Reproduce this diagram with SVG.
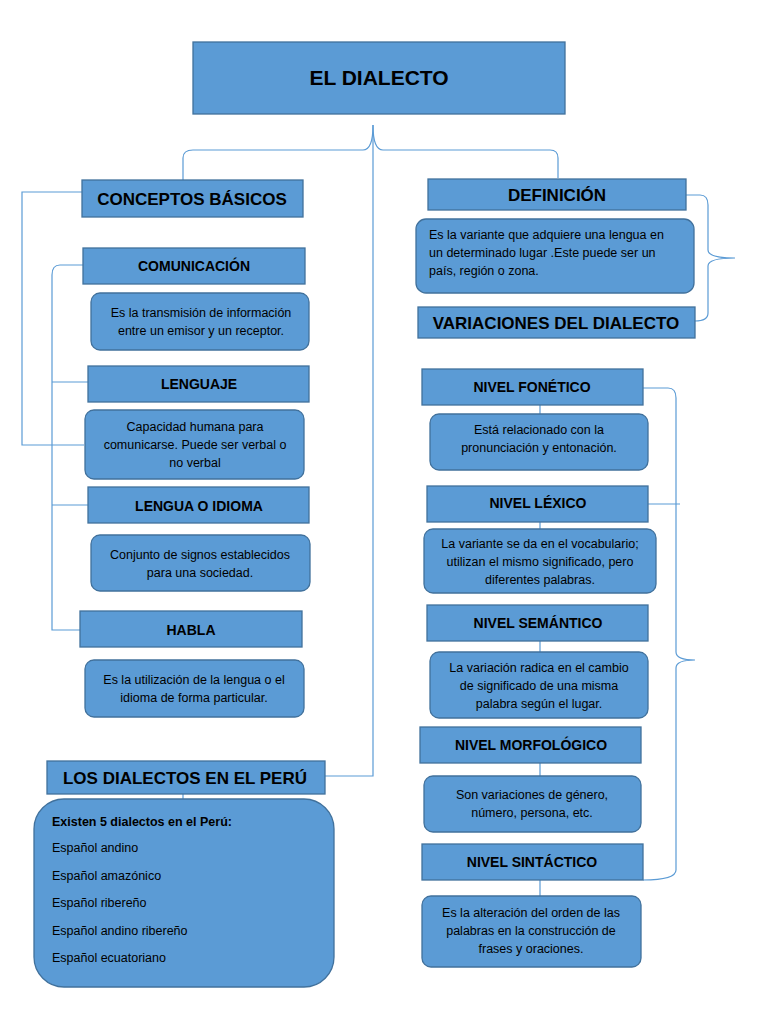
<svg xmlns="http://www.w3.org/2000/svg" width="768" height="1024" viewBox="0 0 768 1024">
<style>
.b{fill:#5b9bd5;stroke:#41719c;stroke-width:1.3}
.t{font-family:"Liberation Sans",Arial,sans-serif;fill:#000;text-anchor:middle}
.h{font-weight:bold;font-size:14px}
.H{font-weight:bold;font-size:17px}
.d{font-size:12.5px}
.l{font-family:"Liberation Sans",Arial,sans-serif;font-size:12.5px;fill:#000}
.c{fill:none;stroke:#5b9bd5;stroke-width:1.2}
</style>
<rect width="768" height="1024" fill="#fff"/>
<g id="connectors">
<path class="c" d="M183 180 V158 Q183 150 193 150 H363 Q373 150 373 125 Q373 150 383 150 H550 Q558 150 558 158 V178"/>
<path class="c" d="M373 125 V776 H325"/>
<path class="c" d="M82 192 H22 V445 H84 M22 318 H22"/>
<path class="c" d="M83 265 H60 Q52 265 52 275 V630 H80 M52 382 H88 M52 505 H88"/>
<path class="c" d="M686 195 H700 Q708 195 708 205 V250 Q708 258 735 258 Q708 258 708 266 V313 Q708 321 695 321"/>
<path class="c" d="M643 388 H668 Q676 388 676 398 V652 Q676 660 695 660 Q676 660 676 668 V870 Q676 880 643 880 M648 504 H680"/>
<path class="c" d="M183 790 V800 M540 405 V414 M540 522 V529 M540 641 V652 M540 763 V776 M540 880 V896"/>
</g>
<g id="title"><rect class="b" x="193" y="42" width="372" height="72"/><text class="t" x="379" y="85" font-weight="bold" font-size="21">EL DIALECTO</text></g>
<g id="conceptos"><rect class="b" x="82" y="180" width="221" height="37"/><text class="t H" x="192" y="205">CONCEPTOS BÁSICOS</text></g>
<g id="comunicacion"><rect class="b" x="83" y="248" width="222" height="36"/><text class="t h" x="194" y="271">COMUNICACIÓN</text></g>
<g id="comunicacion-d"><rect class="b" x="91" y="293" width="218" height="57" rx="9"/><text class="t d" x="201" y="317">Es la transmisión de información</text><text class="t d" x="201" y="335">entre un emisor y un receptor.</text></g>
<g id="lenguaje"><rect class="b" x="88" y="366" width="221" height="36"/><text class="t h" x="199" y="389">LENGUAJE</text></g>
<g id="lenguaje-d"><rect class="b" x="85" y="410" width="219" height="69" rx="9"/><text class="t d" x="195" y="431">Capacidad humana para</text><text class="t d" x="195" y="449">comunicarse. Puede ser verbal o</text><text class="t d" x="195" y="467">no verbal</text></g>
<g id="lengua"><rect class="b" x="88" y="487" width="221" height="36"/><text class="t h" x="199" y="511">LENGUA O IDIOMA</text></g>
<g id="lengua-d"><rect class="b" x="91" y="535" width="219" height="56" rx="9"/><text class="t d" x="200" y="559">Conjunto de signos establecidos</text><text class="t d" x="200" y="577">para una sociedad.</text></g>
<g id="habla"><rect class="b" x="80" y="611" width="222" height="36"/><text class="t h" x="191" y="635">HABLA</text></g>
<g id="habla-d"><rect class="b" x="85" y="660" width="219" height="57" rx="9"/><text class="t d" x="194" y="684">Es la utilización de la lengua o el</text><text class="t d" x="194" y="702">idioma de forma particular.</text></g>
<g id="peru"><rect class="b" x="47" y="761" width="278" height="33"/><text class="t H" x="185" y="784">LOS DIALECTOS EN EL PERÚ</text></g>
<g id="peru-d"><rect class="b" x="34" y="799" width="300" height="188" rx="30"/>
<text class="l" x="52" y="826" font-weight="bold">Existen 5 dialectos en el Perú:</text>
<text class="l" x="52" y="852">Español andino</text><text class="l" x="52" y="880">Español amazónico</text><text class="l" x="52" y="907">Español ribereño</text><text class="l" x="52" y="935">Español andino  ribereño</text><text class="l" x="52" y="962">Español  ecuatoriano</text></g>
<g id="definicion"><rect class="b" x="428" y="179" width="258" height="31"/><text class="t H" x="557" y="201">DEFINICIÓN</text></g>
<g id="definicion-d"><rect class="b" x="416" y="219" width="278" height="74" rx="10"/><text class="l" x="429" y="239">Es la variante que adquiere una lengua en</text><text class="l" x="429" y="257">un determinado lugar .Este puede ser un</text><text class="l" x="429" y="275">país, región o zona.</text></g>
<g id="variaciones"><rect class="b" x="418" y="307" width="277" height="31"/><text class="t H" x="556" y="329">VARIACIONES DEL DIALECTO</text></g>
<g id="fonetico"><rect class="b" x="422" y="369" width="221" height="36"/><text class="t h" x="532" y="392">NIVEL FONÉTICO</text></g>
<g id="fonetico-d"><rect class="b" x="430" y="414" width="218" height="56" rx="9"/><text class="t d" x="539" y="434">Está relacionado  con la</text><text class="t d" x="539" y="452">pronunciación y entonación.</text></g>
<g id="lexico"><rect class="b" x="427" y="486" width="221" height="36"/><text class="t h" x="538" y="508">NIVEL LÉXICO</text></g>
<g id="lexico-d"><rect class="b" x="424" y="529" width="232" height="64" rx="9"/><text class="t d" x="540" y="548">La variante se da en el vocabulario;</text><text class="t d" x="540" y="566">utilizan el mismo significado, pero</text><text class="t d" x="540" y="584">diferentes palabras.</text></g>
<g id="semantico"><rect class="b" x="427" y="605" width="221" height="36"/><text class="t h" x="538" y="628">NIVEL SEMÁNTICO</text></g>
<g id="semantico-d"><rect class="b" x="430" y="652" width="218" height="66" rx="9"/><text class="t d" x="539" y="672">La variación radica en el  cambio</text><text class="t d" x="539" y="690">de significado de una misma</text><text class="t d" x="539" y="708">palabra  según el lugar.</text></g>
<g id="morfologico"><rect class="b" x="420" y="727" width="221" height="36"/><text class="t h" x="531" y="750">NIVEL MORFOLÓGICO</text></g>
<g id="morfologico-d"><rect class="b" x="424" y="776" width="217" height="56" rx="9"/><text class="t d" x="532" y="799">Son variaciones de género,</text><text class="t d" x="532" y="817">número, persona, etc.</text></g>
<g id="sintactico"><rect class="b" x="422" y="844" width="221" height="36"/><text class="t h" x="532" y="867">NIVEL SINTÁCTICO</text></g>
<g id="sintactico-d"><rect class="b" x="422" y="896" width="219" height="71" rx="9"/><text class="t d" x="531" y="917">Es la alteración del orden de las</text><text class="t d" x="531" y="935">palabras en la construcción de</text><text class="t d" x="531" y="953">frases y  oraciones.</text></g>
</svg>
